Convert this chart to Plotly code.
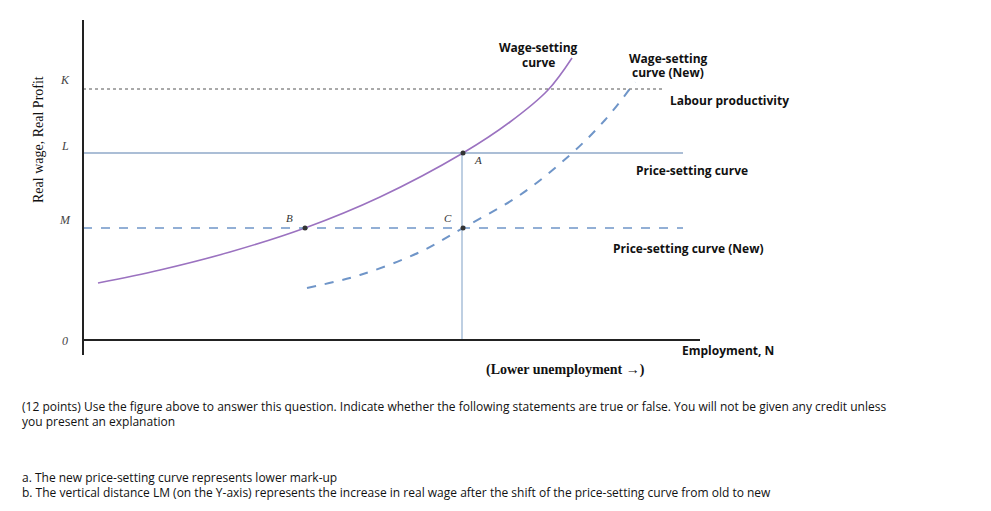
import plotly.graph_objects as go

# curves in diagram units (x: employment, y: real wage)
ws_x = [98, 160, 230, 305, 380, 463, 510, 548, 572]
ws_y = [283, 270, 252, 228, 197, 153, 122, 90, 58]
wsn_x = [307, 360, 420, 463, 520, 570, 605, 635]
wsn_y = [288, 275, 252, 228, 195, 155, 120, 82]
levels = {"K": 89, "L": 153, "M": 228}

fig = go.Figure()
fig.add_trace(go.Scatter(x=ws_x, y=ws_y, mode="lines", line=dict(color="#9b72c0", width=1.6, shape="spline")))
fig.add_trace(go.Scatter(x=wsn_x, y=wsn_y, mode="lines", line=dict(color="#6f95c8", width=2, dash="dash", shape="spline")))
fig.add_trace(go.Scatter(x=[83, 665], y=[levels["K"]] * 2, mode="lines", line=dict(color="#555", width=1, dash="dot")))
fig.add_trace(go.Scatter(x=[83, 683], y=[levels["L"]] * 2, mode="lines", line=dict(color="#8fa8c8", width=1.5)))
fig.add_trace(go.Scatter(x=[83, 683], y=[levels["M"]] * 2, mode="lines", line=dict(color="#6f95c8", width=1.3, dash="dash")))
fig.add_trace(go.Scatter(x=[462, 462], y=[153, 340], mode="lines", line=dict(color="#a8bfd8", width=1.5)))
fig.add_trace(go.Scatter(x=[83, 83], y=[20, 355], mode="lines", line=dict(color="#222", width=2)))
fig.add_trace(go.Scatter(x=[83, 700], y=[340, 340], mode="lines", line=dict(color="#222", width=2)))
fig.add_trace(go.Scatter(x=[305, 463, 463], y=[228, 153, 228], mode="markers", marker=dict(color="#333", size=5)))
fig.add_trace(go.Scatter(x=[820, 991], y=[2, 2], mode="lines", line=dict(color="#bbb", width=1)))

S = "Open Sans"
def t(x, y, s, size=12, fam=S, color="#111", anchor="left", angle=0):
    fig.add_annotation(x=x, y=y, text=s, showarrow=False, xanchor=anchor, textangle=angle,
                       font=dict(family=fam, size=size, color=color))

t(538, 47, "<b>Wage-setting</b>", anchor="center")
t(538, 62, "<b>curve</b>", anchor="center")
t(668, 58, "<b>Wage-setting</b>", anchor="center")
t(668, 72, "<b>curve (New)</b>", anchor="center")
t(668, 100, "<b>Labour productivity</b>")
t(634, 170, "<b>Price-setting curve</b>")
t(611, 248, "<b>Price-setting curve (New)</b>")
t(680, 350, "<b>Employment, N</b>")
t(484, 370, "<b>(Lower unemployment \u2192)</b>", size=14, fam="Liberation Serif")
for lab, yy in [("K", 80), ("L", 146), ("M", 220), ("0", 341)]:
    t(65, yy, "<i>" + lab + "</i>", size=12, fam="Liberation Serif", color="#444", anchor="center")
for lab, xx, yy in [("B", 289, 218), ("C", 448, 218), ("A", 478, 160)]:
    t(xx, yy, "<i>" + lab + "</i>", size=11, fam="Liberation Serif", color="#333", anchor="center")
t(38, 140, "Real wage, Real Profit", size=14, fam="Liberation Sans Narrow", anchor="center", angle=-90)
t(20, 406, "(12 points) Use the figure above to answer this question. Indicate whether the following statements are true or false. You will not be given any credit unless", size=12)
t(20, 421, "you present an explanation", size=12)
t(20, 477, "a. The new price-setting curve represents lower mark-up", size=12)
t(20, 492, "b. The vertical distance LM (on the Y-axis) represents the increase in real wage after the shift of the price-setting curve from old to new", size=12)

fig.update_layout(width=991, height=511, margin=dict(l=0, r=0, t=0, b=0), showlegend=False,
                  plot_bgcolor="white", paper_bgcolor="white",
                  xaxis=dict(range=[8, 999], visible=False, fixedrange=True),
                  yaxis=dict(range=[519, 8], visible=False, fixedrange=True))
fig.write_html("out.html")
